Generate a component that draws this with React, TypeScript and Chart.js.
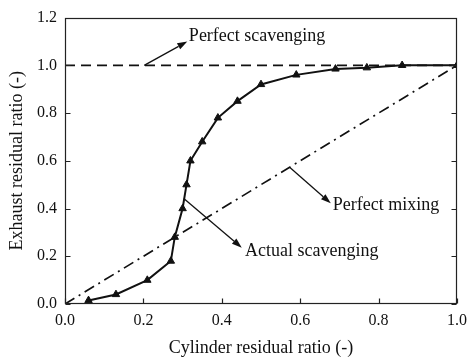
import React, { useEffect, useRef } from 'react';
import { Chart, registerables } from 'chart.js';

Chart.register(...registerables);

// Actual scavenging curve
const cylinderResidual = [0.06, 0.13, 0.21, 0.27, 0.28, 0.30, 0.31, 0.32, 0.35, 0.39, 0.44, 0.50, 0.59, 0.69, 0.77, 0.86, 1.0];
const exhaustResidual = [0.015, 0.04, 0.10, 0.18, 0.28, 0.40, 0.50, 0.60, 0.68, 0.78, 0.85, 0.92, 0.96, 0.985, 0.99, 1.0, 1.0];

// Reference lines
const scavengingX = [0, 1];
const scavengingY = [1, 1];
const mixingX = [0, 1];
const mixingY = [0, 1];

// Ticks
const xTickValues = [0, 0.2, 0.4, 0.6, 0.8, 1.0];
const yTickValues = [0, 0.2, 0.4, 0.6, 0.8, 1.0, 1.2];

// Annotations (data coordinates)
const noteLabels = ['Perfect scavenging', 'Perfect mixing', 'Actual scavenging'];
const noteFromX = [0.202, 0.573, 0.303];
const noteFromY = [1.0, 0.573, 0.442];
const noteToX = [0.312, 0.678, 0.451];
const noteToY = [1.10, 0.422, 0.236];
const noteTextX = [0.316, 0.683, 0.459];
const noteTextY = [1.12, 0.415, 0.223];

const FONT = '"Liberation Serif", "Times New Roman", serif';
const INK = '#111';

const framePlugin = {
  id: 'frameAndNotes',
  afterDatasetsDraw(chart: any) {
    const { ctx, chartArea: a, scales } = chart;
    const xs = scales.x;
    const ys = scales.y;
    ctx.save();
    // frame
    ctx.strokeStyle = '#222';
    ctx.lineWidth = 1.2;
    const L = Math.round(a.left) + 0.5;
    const R = Math.round(a.right) - 0.5;
    const T = Math.round(a.top) + 0.5;
    const B = Math.round(a.bottom) - 0.5;
    ctx.strokeRect(L, T, R - L, B - T);
    // inward ticks
    const tl = 5;
    ctx.beginPath();
    xTickValues.forEach((v) => {
      const px = Math.round(xs.getPixelForValue(v)) + 0.5;
      ctx.moveTo(px, B);
      ctx.lineTo(px, B - tl);
    });
    yTickValues.forEach((v) => {
      const py = Math.round(ys.getPixelForValue(v)) + 0.5;
      ctx.moveTo(L, py);
      ctx.lineTo(L + tl, py);
      ctx.moveTo(R, py);
      ctx.lineTo(R - tl, py);
    });
    ctx.stroke();

    // arrows + labels
    ctx.strokeStyle = INK;
    ctx.fillStyle = INK;
    ctx.lineWidth = 1.3;
    noteLabels.forEach((label, i) => {
      const x1 = xs.getPixelForValue(noteFromX[i]);
      const y1 = ys.getPixelForValue(noteFromY[i]);
      const x2 = xs.getPixelForValue(noteToX[i]);
      const y2 = ys.getPixelForValue(noteToY[i]);
      const ang = Math.atan2(y2 - y1, x2 - x1);
      const hl = 10;
      const hw = 3.4;
      const bx = x2 - hl * Math.cos(ang);
      const by = y2 - hl * Math.sin(ang);
      ctx.beginPath();
      ctx.moveTo(x1, y1);
      ctx.lineTo(bx, by);
      ctx.stroke();
      ctx.beginPath();
      ctx.moveTo(x2, y2);
      ctx.lineTo(bx + hw * Math.sin(ang), by - hw * Math.cos(ang));
      ctx.lineTo(bx - hw * Math.sin(ang), by + hw * Math.cos(ang));
      ctx.closePath();
      ctx.fill();
      ctx.font = `18px ${FONT}`;
      ctx.textAlign = 'left';
      ctx.textBaseline = 'middle';
      ctx.fillText(label, xs.getPixelForValue(noteTextX[i]), ys.getPixelForValue(noteTextY[i]));
    });
    ctx.restore();
  },
};

export default function App() {
  const ref = useRef<HTMLCanvasElement | null>(null);

  useEffect(() => {
    document.body.style.margin = '0';
    const canvas = ref.current;
    if (!canvas) return;
    const chart = new Chart(canvas, {
      type: 'scatter',
      data: {
        datasets: [
          {
            label: 'Perfect scavenging',
            data: scavengingX.map((x, i) => ({ x, y: scavengingY[i] })),
            showLine: true,
            borderColor: INK,
            borderWidth: 1.7,
            borderDash: [10, 6],
            pointRadius: 0,
          },
          {
            label: 'Perfect mixing',
            data: mixingX.map((x, i) => ({ x, y: mixingY[i] })),
            showLine: true,
            borderColor: INK,
            borderWidth: 1.7,
            borderDash: [11, 5, 2, 5],
            pointRadius: 0,
          },
          {
            label: 'Actual scavenging',
            data: cylinderResidual.map((x, i) => ({ x, y: exhaustResidual[i] })),
            showLine: true,
            borderColor: INK,
            borderWidth: 2,
            backgroundColor: INK,
            pointStyle: 'triangle',
            pointRadius: 4.3,
            pointBorderWidth: 1,
            pointBackgroundColor: INK,
            pointBorderColor: INK,
            tension: 0,
          },
        ],
      },
      options: {
        responsive: false,
        animation: false,
        layout: { padding: { top: 13, right: 14, left: 0, bottom: 0 } },
        plugins: {
          legend: { display: false },
          tooltip: { enabled: false },
        },
        scales: {
          x: {
            type: 'linear',
            min: 0,
            max: 1,
            grid: { display: false, drawTicks: false },
            border: { display: false },
            afterBuildTicks: (s: any) => {
              s.ticks = xTickValues.map((value) => ({ value }));
            },
            afterFit: (s: any) => {
              s.height = 55;
            },
            ticks: {
              padding: 7,
              color: INK,
              font: { family: FONT, size: 16 },
              maxRotation: 0,
              callback: (v: any) => Number(v).toFixed(1),
            },
            title: {
              display: true,
              text: 'Cylinder residual ratio (-)',
              color: INK,
              font: { family: FONT, size: 18 },
              padding: { top: 0, bottom: 0 },
            },
          },
          y: {
            type: 'linear',
            min: 0,
            max: 1.2,
            grid: { display: false, drawTicks: false },
            border: { display: false },
            afterBuildTicks: (s: any) => {
              s.ticks = yTickValues.map((value) => ({ value }));
            },
            afterFit: (s: any) => {
              s.width = 65;
            },
            ticks: {
              padding: 8,
              color: INK,
              font: { family: FONT, size: 16 },
              callback: (v: any) => Number(v).toFixed(1),
            },
            title: {
              display: true,
              text: 'Exhaust residual ratio (-)',
              color: INK,
              font: { family: FONT, size: 18 },
              padding: { top: 6, bottom: 0 },
            },
          },
        },
      },
      plugins: [framePlugin],
    });
    return () => chart.destroy();
  }, []);

  return (
    <div style={{ position: 'absolute', left: 0, top: 0, width: 474, height: 359, background: '#fff' }}>
      <canvas ref={ref} width={474} height={359} style={{ display: 'block' }} />
    </div>
  );
}
